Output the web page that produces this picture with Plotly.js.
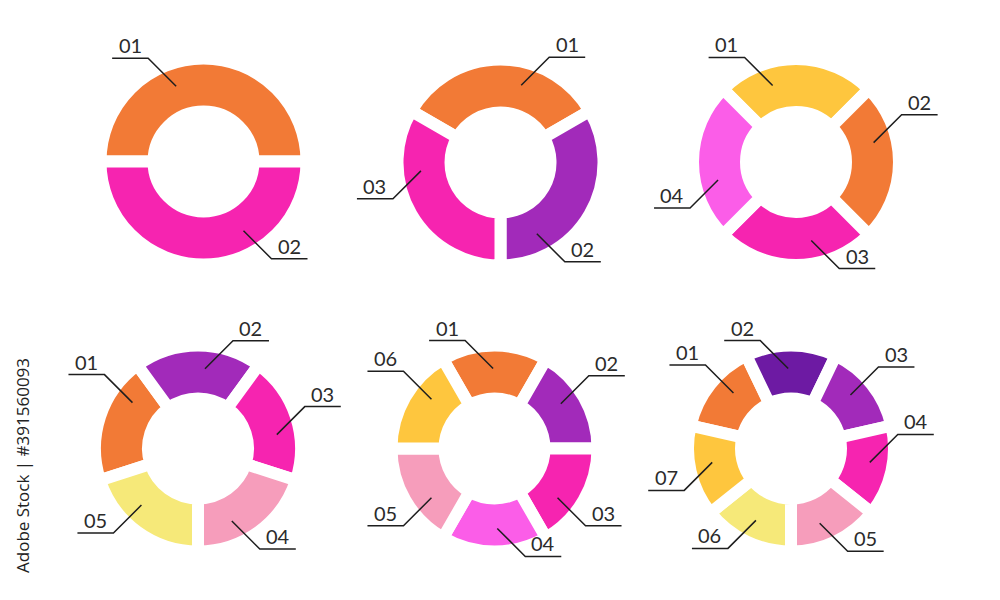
<!DOCTYPE html>
<html>
<head>
<meta charset="utf-8">
<script src="https://cdn.plot.ly/plotly-3.0.1.min.js"></script>
<style>
 body{margin:0;background:#fff;}
 #rings{width:1000px;height:600px;}
</style>
</head>
<body>
<div id="rings"></div>
<script>

// data, one set per ring (every segment has the same share)
var labelsA = ['01','02'];
var valuesA = [1,1];
var labelsB = ['01','02','03'];
var valuesB = [1,1,1];
var labelsC = ['01','02','03','04'];
var valuesC = [1,1,1,1];
var labelsD = ['01','02','03','04','05'];
var valuesD = [1,1,1,1,1];
var labelsE = ['01','02','03','04','05','06'];
var valuesE = [1,1,1,1,1,1];
var labelsF = ['01','02','03','04','05','06','07'];
var valuesF = [1,1,1,1,1,1,1];

var ORANGE = '#f27a36', MAGENTA = '#f624b0', PURPLE = '#a22aba', DARKPURPLE = '#6d1aa3',
    AMBER = '#fec63e', LILAC = '#fb5de8', PINK = '#f69dbb', LEMON = '#f6e979';

var colorsA = [ORANGE, MAGENTA];
var colorsB = [ORANGE, PURPLE, MAGENTA];
var colorsC = [AMBER, ORANGE, MAGENTA, LILAC];
var colorsD = [ORANGE, PURPLE, MAGENTA, PINK, LEMON];
var colorsE = [ORANGE, PURPLE, MAGENTA, LILAC, PINK, AMBER];
var colorsF = [ORANGE, DARKPURPLE, PURPLE, MAGENTA, PINK, LEMON, AMBER];

var W = 1000, H = 600;
var GAP = 12;          // white gap between segments
var RING_R = 97;       // visible outer radius
var ANCHOR_R = 80;     // where a leader line starts
var DIAG = 28, HLEN = 36;

// placement of each ring (pixel centre, start rotation) and its leader lines
var rings = [
	{labels: labelsA, values: valuesA, colors: colorsA, cx: 203.5, cy: 161.5, rot: -90,
	 angles: [110, -60], dirs: ['NW','SE']},
	{labels: labelsB, values: valuesB, colors: colorsB, cx: 500.5, cy: 162.5, rot: -60,
	 angles: [75, -63, 186], dirs: ['NE','SE','SW']},
	{labels: labelsC, values: valuesC, colors: colorsC, cx: 796, cy: 162, rot: -45,
	 angles: [107, 14, -79, 193], dirs: ['NW','NE','SE','SW']},
	{labels: labelsD, values: valuesD, colors: colorsD, cx: 198, cy: 448.5, rot: -108,
	 angles: [145, 85, 10, -65, 225], dirs: ['NW','NE','NE','SE','SW']},
	{labels: labelsE, values: valuesE, colors: colorsE, cx: 494.5, cy: 448.5, rot: -30,
	 angles: [91, 34, -38, -88, 218, 142], dirs: ['NW','NE','SE','SE','SW','NW']},
	{labels: labelsF, values: valuesF, colors: colorsF, cx: 791, cy: 448.5, rot: -360/7*1.5,
	 angles: [136, 92, 42, -10, -69, 244, 190], dirs: ['NW','NW','NE','NE','SE','SW','SW']}
];

function px(x){ return x / W; }
function py(y){ return 1 - y / H; }

function drawRings(){

	var data = [];
	var shapes = [];
	var annotations = [];
	var r = RING_R + GAP / 2;

	for(var i=0; i<rings.length; i++){
		var c = rings[i];
		data.push({
			type: 'pie',
			labels: c.labels,
			values: c.values,
			sort: false,
			direction: 'clockwise',
			rotation: c.rot,
			hole: (56 - GAP / 2) / r,
			textinfo: 'none',
			hoverinfo: 'label',
			showlegend: false,
			marker: {
				colors: c.colors,
				line: {color: '#ffffff', width: GAP}
			},
			domain: {
				x: [px(c.cx - r), px(c.cx + r)],
				y: [py(c.cy + r), py(c.cy - r)]
			}
		});

		for(var k=0; k<c.labels.length; k++){
			var a = c.angles[k] * Math.PI / 180;
			var x0 = c.cx + ANCHOR_R * Math.cos(a);
			var y0 = c.cy - ANCHOR_R * Math.sin(a);
			var sx = c.dirs[k].indexOf('E') >= 0 ? 1 : -1;
			var sy = c.dirs[k].indexOf('N') >= 0 ? -1 : 1;
			var x1 = x0 + sx * DIAG, y1 = y0 + sy * DIAG;
			var x2 = x1 + sx * HLEN;

			shapes.push({
				type: 'path',
				xref: 'paper', yref: 'paper',
				path: 'M ' + px(x0) + ',' + py(y0) + ' L ' + px(x1) + ',' + py(y1) + ' L ' + px(x2) + ',' + py(y1),
				line: {color: '#1e1e1e', width: 1.5}
			});

			annotations.push({
				xref: 'paper', yref: 'paper',
				x: px((x1 + x2) / 2), y: py(y1 - 13),
				xanchor: 'center', yanchor: 'middle',
				text: c.labels[k],
				showarrow: false,
				font: {family: 'Lato, sans-serif', size: 20, color: '#2b2b2b'}
			});
		}
	}

	annotations.push({
		xref: 'paper', yref: 'paper',
		x: px(23), y: py(466),
		xanchor: 'center', yanchor: 'middle',
		text: 'Adobe Stock | #391560093',
		textangle: -90,
		showarrow: false,
		font: {family: '"Open Sans", sans-serif', size: 17, color: '#222222'}
	});

	var layout = {
		width: W,
		height: H,
		margin: {l: 0, r: 0, t: 0, b: 0, pad: 0},
		paper_bgcolor: '#ffffff',
		plot_bgcolor: '#ffffff',
		showlegend: false,
		shapes: shapes,
		annotations: annotations
	};

	Plotly.newPlot('rings', data, layout, {displayModeBar: false, staticPlot: true});
}

drawRings();
</script>
</body>
</html>
